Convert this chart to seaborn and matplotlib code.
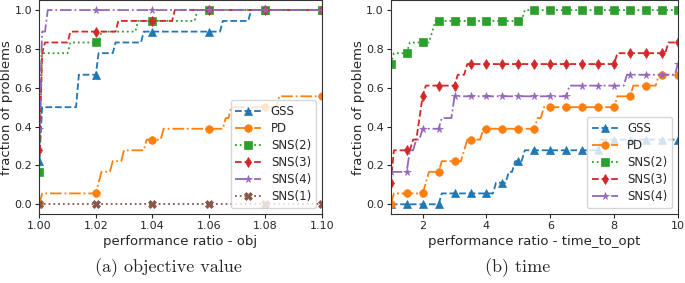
import numpy as np
import pandas as pd
import seaborn as sns
import matplotlib.pyplot as plt

# ---- step profiles: x where a level starts, level value ----
# (a) objective value, tau in [1.00, 1.10]
gss_obj_x = [1.000, 1.001, 1.014, 1.021, 1.027, 1.037, 1.065, 1.075]
gss_obj_y = [0.222, 0.500, 0.667, 0.778, 0.833, 0.889, 0.944, 1.000]
pd_obj_x = [1.000, 1.001, 1.0205, 1.022, 1.026, 1.030, 1.038, 1.044, 1.066, 1.068, 1.085]
pd_obj_y = [0.000, 0.056, 0.111, 0.167, 0.222, 0.278, 0.333, 0.389, 0.444, 0.500, 0.556]
sns2_obj_x = [1.000, 1.001, 1.011, 1.022, 1.035, 1.056]
sns2_obj_y = [0.167, 0.778, 0.833, 0.889, 0.944, 1.000]
sns3_obj_x = [1.000, 1.001, 1.002, 1.011, 1.028, 1.048]
sns3_obj_y = [0.278, 0.778, 0.833, 0.889, 0.944, 1.000]
sns4_obj_x = [1.000, 1.001, 1.003]
sns4_obj_y = [0.389, 0.889, 1.000]
sns1_obj_x = [1.000]
sns1_obj_y = [0.000]

# (b) time, tau in [1, 10]
gss_t_x = [1.0, 2.55, 4.25, 4.65, 4.85, 5.15, 7.6]
gss_t_y = [0.000, 0.056, 0.111, 0.167, 0.222, 0.278, 0.333]
pd_t_x = [1.0, 1.05, 2.05, 2.15, 2.55, 3.25, 3.35, 3.85, 5.6, 5.8, 8.05, 8.55, 9.4]
pd_t_y = [0.000, 0.056, 0.111, 0.167, 0.222, 0.278, 0.333, 0.389, 0.444, 0.500,
          0.556, 0.611, 0.667]
sns2_t_x = [1.0, 1.05, 1.55, 2.25, 2.35, 5.15]
sns2_t_y = [0.722, 0.778, 0.833, 0.889, 0.944, 1.000]
sns3_t_x = [1.0, 1.05, 1.65, 1.85, 1.95, 2.05, 3.05, 3.4, 8.05, 9.65]
sns3_t_y = [0.111, 0.278, 0.333, 0.444, 0.556, 0.611, 0.667, 0.722, 0.778, 0.833]
sns4_t_x = [1.0, 1.55, 1.75, 1.95, 2.55, 2.95, 6.55, 8.35, 9.95]
sns4_t_y = [0.167, 0.278, 0.333, 0.389, 0.444, 0.556, 0.611, 0.667, 0.722]

labels_obj = ['GSS', 'PD', 'SNS(2)', 'SNS(3)', 'SNS(4)', 'SNS(1)']
labels_t = ['GSS', 'PD', 'SNS(2)', 'SNS(3)', 'SNS(4)']

pal = sns.color_palette('tab10')
styles = {
    'GSS': dict(color=pal[0], linestyle='--', marker='^'),
    'PD': dict(color=pal[1], linestyle='-.', marker='o'),
    'SNS(2)': dict(color=pal[2], linestyle=':', marker='s'),
    'SNS(3)': dict(color=pal[3], linestyle='--', marker='d'),
    'SNS(4)': dict(color=pal[4], linestyle='-.', marker='*'),
    'SNS(1)': dict(color=pal[5], linestyle=':', marker='X'),
}


def profile(bx, by, taus):
    idx = np.searchsorted(np.asarray(bx), taus + 1e-9, side='right') - 1
    return np.asarray(by)[idx]


sns.set_style('ticks')
plt.rcParams['font.family'] = ['DejaVu Sans']

fig = plt.figure(figsize=(6.85, 2.83), dpi=100)
ax1 = fig.add_axes([0.0574, 0.2438, 0.4122, 0.755])
ax2 = fig.add_axes([0.5704, 0.2438, 0.4194, 0.755])

taus_obj = np.linspace(1.0, 1.1, 101)
taus_t = np.linspace(1.0, 10.0, 91)

obj_data = {
    'GSS': (gss_obj_x, gss_obj_y), 'PD': (pd_obj_x, pd_obj_y),
    'SNS(2)': (sns2_obj_x, sns2_obj_y), 'SNS(3)': (sns3_obj_x, sns3_obj_y),
    'SNS(4)': (sns4_obj_x, sns4_obj_y), 'SNS(1)': (sns1_obj_x, sns1_obj_y),
}
t_data = {
    'GSS': (gss_t_x, gss_t_y), 'PD': (pd_t_x, pd_t_y),
    'SNS(2)': (sns2_t_x, sns2_t_y), 'SNS(3)': (sns3_t_x, sns3_t_y),
    'SNS(4)': (sns4_t_x, sns4_t_y),
}


def draw(ax, data, labels, taus, every):
    for name in labels:
        bx, by = data[name]
        df = pd.DataFrame({'tau': taus, 'frac': profile(bx, by, taus)})
        st = styles[name]
        sns.lineplot(data=df, x='tau', y='frac', ax=ax, label=name,
                     color=st['color'], linestyle=st['linestyle'], marker=st['marker'],
                     markevery=every, lw=1.3, ms=5.5,
                     markeredgecolor=st['color'], markeredgewidth=0.5)
    ax.set_ylabel('fraction of problems', fontsize=9.5, labelpad=1)
    ax.tick_params(labelsize=8, length=3, pad=2)
    ax.legend(loc='lower right', fontsize=8.5, handlelength=2.2,
              borderpad=0.4, labelspacing=0.35)
    for sp in ax.spines.values():
        sp.set_color('#333333')


draw(ax1, obj_data, labels_obj, taus_obj, 20)
ax1.set_xlim(1.0, 1.1)
ax1.set_xticks([1.00, 1.02, 1.04, 1.06, 1.08, 1.10])
ax1.set_xlabel('performance ratio - obj', fontsize=9.5, labelpad=3)
ax1.set_ylim(-0.05, 1.05)

draw(ax2, t_data, labels_t, taus_t, 5)
ax2.set_xlim(1.0, 10.0)
ax2.set_xticks([2, 4, 6, 8, 10])
ax2.set_xlabel('performance ratio - time_to_opt', fontsize=9.5, labelpad=3)
ax2.set_ylim(-0.05, 1.05)

fig.text(168 / 685, 1 - 268 / 283, '(a) objective value', family='cmr10',
         fontsize=13, ha='center', va='center')
fig.text(518 / 685, 1 - 268 / 283, '(b) time', family='cmr10',
         fontsize=13, ha='center', va='center')

fig.savefig('out.png', dpi=100)
